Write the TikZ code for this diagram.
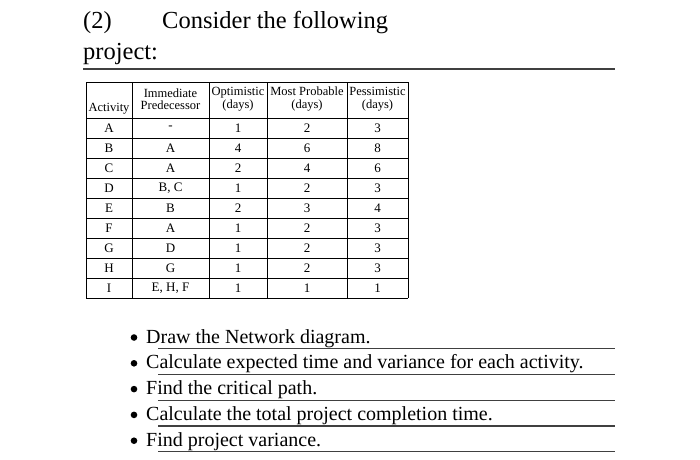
\documentclass[tikz,border=0pt]{standalone}
\usepackage{fontspec}
\setmainfont{Liberation Serif}
\begin{document}
\begin{tikzpicture}[x=1pt,y=-1pt,
  tt/.style={font=\fontsize{24.5}{27}\selectfont,anchor=base west,inner sep=0},
  bt/.style={font=\fontsize{20}{22}\selectfont,anchor=base west,inner sep=0},
  cell/.style={font=\fontsize{13}{14}\selectfont,anchor=center,inner sep=0},
  hd/.style={font=\fontsize{12.5}{12.5}\selectfont,align=center,inner sep=0,anchor=center},
  rule/.style={line width=1.2pt,black!75}]
\useasboundingbox (0,0) rectangle (700,459);
\node[tt] (n2) at (83,28) {(2)};
\node[tt] (cons) at (162,28) {Consider the following};
\node[tt] (proj) at (83,59) {project:};
\draw[rule] (83,69) -- (615,69);
% table
\foreach \x in {86,132,209,267,347,408} \draw[line width=0.9pt] (\x,82) -- (\x,298);
\draw[line width=0.9pt] (86,82) -- (408,82);
\foreach \y in {118,138,158,178,198,218,238,258,278,298} \draw[line width=0.9pt] (86,\y) -- (408,\y);
\node[hd] (h1) at (109,109) {Activity};
\node[hd] (h2) at (170.5,99) {Immediate\\Predecessor};
\node[hd] (h3) at (238,99) {Optimistic\\(days)};
\node[hd] (h4) at (307,99) {Most Probable\\(days)};
\node[hd] (h5) at (377.5,99) {Pessimistic\\(days)};
\foreach \a/\p/\o/\m/\q [count=\i] in {A/-/1/2/3,B/A/4/6/8,C/A/2/4/6,D/{B, C}/1/2/3,E/B/2/3/4,F/A/1/2/3,G/D/1/2/3,H/G/1/2/3,I/{E, H, F}/1/1/1}{
  \pgfmathsetmacro\yy{108+20*\i}
  \node[cell] (a\i) at (109,\yy) {\a};
  \node[cell] (p\i) at (170.5,\yy) {\p};
  \node[cell] (o\i) at (238,\yy) {\o};
  \node[cell] (m\i) at (307,\yy) {\m};
  \node[cell] (q\i) at (377.5,\yy) {\q};
}
% bullets
\foreach \t [count=\i] in {Draw the Network diagram.,Calculate expected time and variance for each activity.,Find the critical path.,Calculate the total project completion time.,Find project variance.}{
  \pgfmathsetmacro\yy{343+25.8*(\i-1)}
  \fill (134,\yy-5.5) circle (3.3);
  \node[bt] (b\i) at (146,\yy) {\t};
  \draw[rule] (158,\yy+5.5) -- (615,\yy+5.5);
}
\end{tikzpicture}
\end{document}
